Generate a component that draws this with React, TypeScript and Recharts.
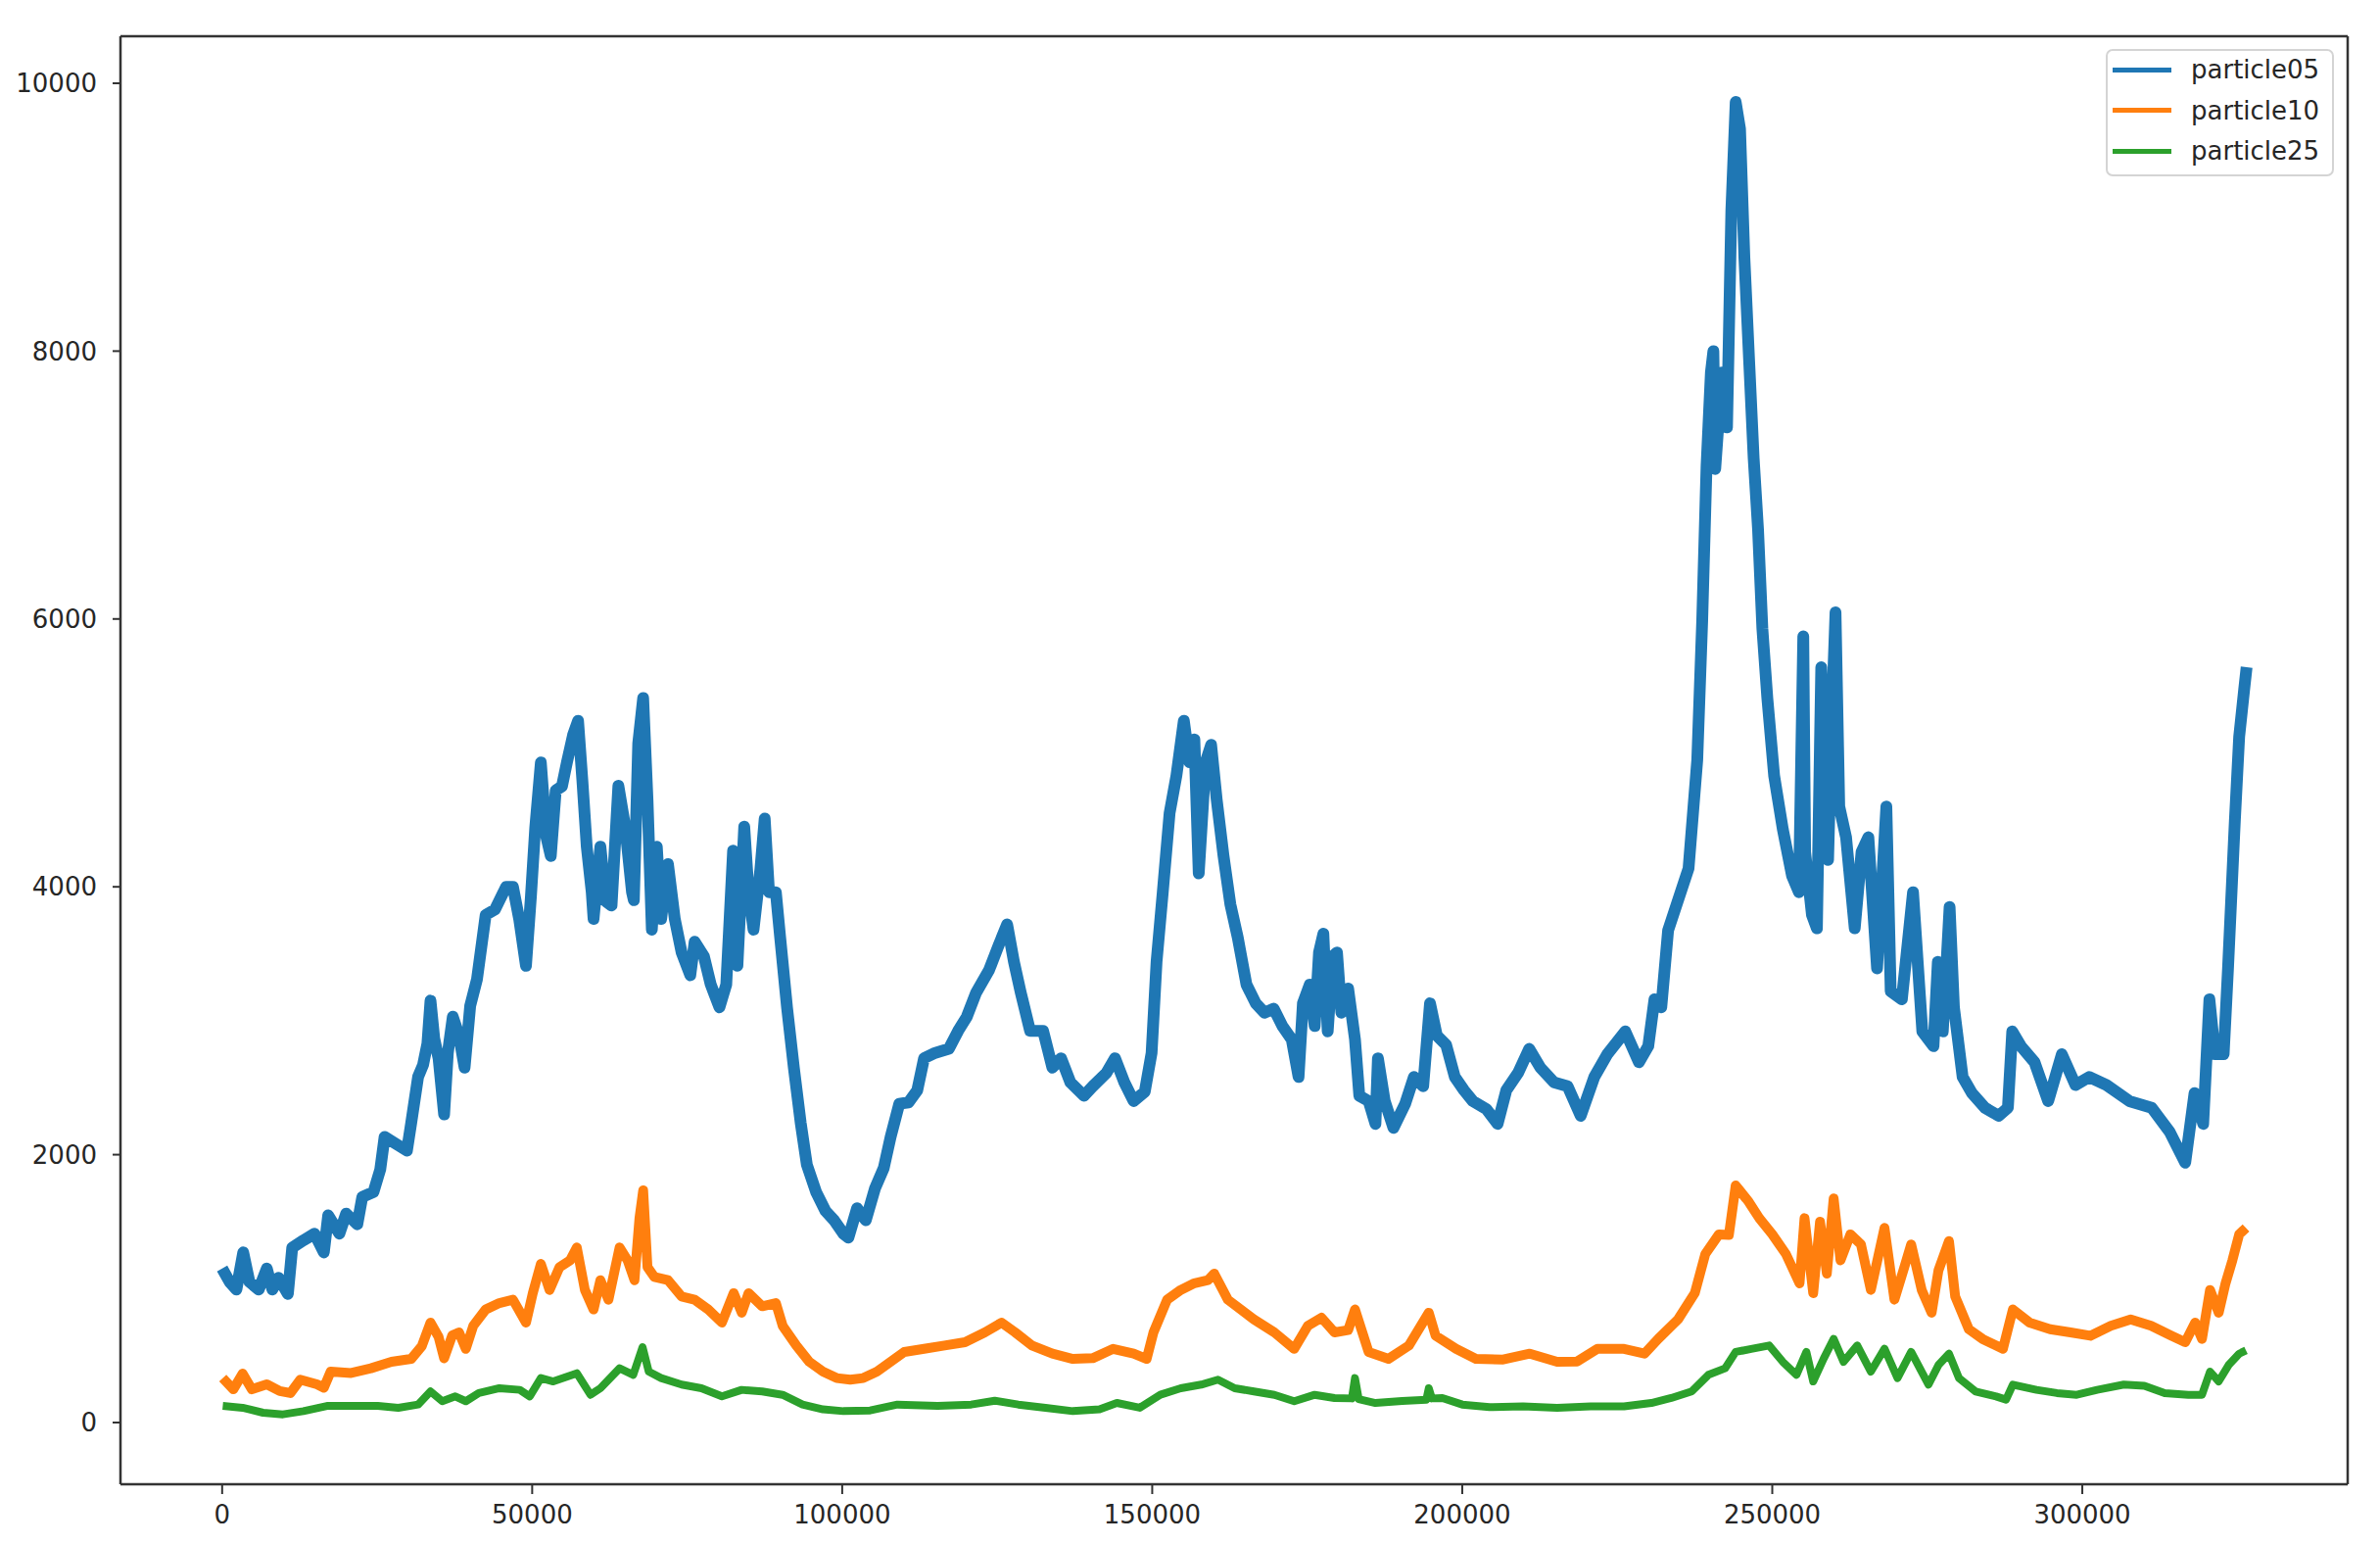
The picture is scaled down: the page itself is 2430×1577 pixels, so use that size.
import { Legend, Line, LineChart, ReferenceLine, XAxis, YAxis } from "recharts";

// sample index in thousands
const p05X = [
  0, 1.2, 2.3, 3.4, 4.4, 5.9, 7.2, 8.1, 9.1, 10.6,
  11.3, 13.1, 14.9, 16.4, 17.1, 18.9, 20.0, 21.8, 22.6, 24.4,
  25.5, 26.2, 28.4, 29.8, 30.5, 31.6, 32.4, 33.1, 33.6, 34.2,
  34.9, 35.8, 36.4, 37.2, 38.2, 39.1, 40.0, 41.1, 42.5, 44.0,
  45.8, 46.9, 47.9, 49.0, 49.8, 50.5, 51.4, 52.3, 53.0, 53.8,
  54.8, 55.6, 56.6, 57.4, 58.1, 58.8, 59.6, 59.9, 61.0, 61.9,
  62.8, 63.9, 65.0, 66.1, 66.4, 67.1, 67.9, 68.6, 69.3, 70.1,
  70.8, 71.9, 73.0, 74.1, 75.5, 76.2, 77.7, 78.8, 80.2, 81.3,
  82.4, 83.1, 84.2, 84.9, 85.7, 86.8, 87.5, 88.2, 89.3, 90.0,
  91.1, 92.2, 93.3, 94.3, 95.8, 97.3, 98.7, 100.2, 101.0, 102.4,
  103.8, 105.3, 106.7,
  107.8, 109.2, 110.7, 112.1, 113.2, 115.0, 117.2, 118.7, 120.1, 121.6,
  123.7, 125.2, 126.6, 127.7, 128.8, 130.3, 132.4, 133.9, 135.3, 136.8,
  139.0, 140.4, 142.6, 144.0, 145.5, 147.0, 148.8, 149.9, 150.7, 151.7,
  152.8, 153.9, 155.1, 156.0, 156.8, 157.5, 158.6, 159.5, 160.4, 161.5,
  162.6, 163.8, 165.2, 166.7, 168.1, 169.6, 171.0, 172.5, 173.6, 174.3,
  175.4, 176.2, 176.9, 177.6, 178.3, 179.1, 179.8, 180.5, 181.6, 182.7,
  183.4, 184.9, 186.0, 186.4, 187.5, 188.9, 190.8, 192.2, 193.7, 194.8,
  195.9, 197.4, 198.8, 200.3, 201.7, 203.9, 205.7, 207.1, 209.0, 210.8,
  212.6, 214.8, 217.0,
  219.1, 221.3, 223.4, 226.3, 228.5, 230.0, 231.0, 232.1, 233.2, 236.5,
  237.9, 238.7, 239.4, 240.1, 240.5, 240.8, 241.9, 242.7, 243.4, 244.1,
  244.8, 245.2, 245.5, 246.3, 247.0, 247.7, 248.4, 249.2, 250.3, 251.7,
  253.2, 254.3, 255.0, 255.3, 256.4, 257.2, 257.9, 259.0, 259.7, 260.2,
  260.8, 261.9, 263.3, 264.4, 265.5, 266.9, 268.4, 269.1, 270.9, 272.7,
  274.2, 276.0, 276.7, 277.5, 278.6, 279.3, 280.7, 282.2, 284.3, 286.5,
  288.0, 288.7, 290.1, 292.3, 294.5, 296.7, 298.9, 301.1, 303.9, 307.6,
  311.2, 314.1, 316.6, 318.1, 319.5, 320.5, 321.4, 322.8, 323.5, 324.6,
  325.3, 326.1, 326.5,
];
const p05Y = [
  1150, 1050, 993, 1270, 1050, 993, 1150, 993, 1080, 960,
  1305, 1360, 1410, 1270, 1547, 1410, 1560, 1480, 1684, 1720,
  1890, 2133, 2070, 2030, 2240, 2581, 2670, 2830, 3150, 2870,
  2720, 2300, 2760, 3030, 2890, 2650, 3110, 3310, 3790, 3830,
  4000, 4000, 3760, 3410, 3930, 4446, 4928, 4370, 4230, 4720,
  4750, 4928, 5135, 5240, 4790, 4300, 3960, 3760, 4300, 3890,
  3860, 4755, 4450, 3960, 3900, 5070, 5410, 4650, 3680, 4300,
  3760, 4170, 3760, 3510, 3340, 3590, 3480, 3270, 3100, 3270,
  4270, 3410, 4450, 3960, 3680, 4130, 4510, 3960, 3960, 3620,
  3100, 2650, 2240, 1925, 1720, 1580, 1510, 1410, 1380, 1600,
  1510, 1750, 1900,
  2130, 2380, 2390, 2480, 2720, 2760, 2790, 2925, 3030, 3210,
  3380, 3560, 3720, 3440, 3210, 2925, 2925, 2650, 2720, 2540,
  2440, 2510, 2610, 2720, 2540, 2400, 2470, 2760, 3440, 3960,
  4550, 4830, 5240, 4930, 5100, 4100, 4930, 5060, 4650, 4230,
  3870, 3620, 3270, 3130, 3060, 3090, 2960, 2860, 2580, 3130,
  3270, 2960, 3510, 3650, 2920, 3480, 3510, 3060, 3240, 2860,
  2440, 2400, 2230, 2720, 2400, 2200, 2380, 2580, 2510, 3130,
  2890, 2820, 2580, 2480, 2400, 2340, 2230, 2480, 2610, 2790,
  2650, 2540, 2510,
  2290, 2580, 2750, 2920, 2690, 2810, 3160, 3100, 3675, 4138,
  4947, 5987, 7144, 7840, 8000, 7120, 7840, 7430, 9054, 9860,
  9660, 9110, 8700, 7897, 7200, 6673, 5930, 5410, 4830, 4430,
  4080, 3960, 5870, 4260, 3790, 3690, 5640, 4200, 5410, 6050,
  4600, 4370, 3690, 4260, 4370, 3390, 4600, 3220, 3160, 3960,
  2920, 2810, 3440, 2920, 3850, 3100, 2580, 2460, 2350, 2290,
  2350, 2920, 2810, 2690, 2400, 2750, 2520, 2580, 2520, 2400,
  2350, 2170, 1940, 2460, 2230, 3160, 2750, 2750, 3390, 4490,
  5120, 5470, 5640,
];

const p10X = [
  0.1, 1.8, 3.3, 4.8, 7.2, 9.3, 11.0, 12.6, 15.3, 16.4,
  17.5, 20.8, 24.0, 27.3, 30.5, 32.2, 33.6, 34.9, 35.8, 37.1,
  38.2, 39.3, 40.5, 42.5, 44.7, 46.9, 49.0, 50.1, 51.4, 52.8,
  54.4, 56.1, 57.2, 58.5, 59.9, 61.0, 62.3, 64.1, 65.4, 66.5,
  67.3, 67.9, 68.6, 69.7, 71.9, 74.1, 76.2, 78.4, 80.6, 82.5,
  83.8, 84.9, 87.1, 89.3, 90.4, 92.6, 94.7, 96.9, 99.1, 101.3,
  103.4, 105.6, 107.8, 110.0, 113.2, 116.5, 119.8, 123.0, 125.7, 127.9,
  130.6, 133.9, 137.2, 140.4, 143.7, 147.0, 149.1, 150.2, 152.4, 154.6,
  156.8, 159.0, 160.0, 162.2,
  166.4, 169.7, 172.9, 175.1, 177.3, 179.4, 181.6, 182.7, 184.9, 188.1,
  191.4, 194.6, 195.7, 199.0, 202.2, 206.6, 210.9, 215.3, 218.5, 221.8,
  226.1, 229.4, 231.6, 234.8, 237.5, 239.2, 241.4, 243.0, 244.1, 246.2,
  247.9, 250.0, 252.2, 254.4, 255.2, 256.6, 257.7, 258.8, 259.9, 261.0,
  262.6, 264.3, 265.9, 268.1, 269.7, 271.3, 272.4, 274.1, 275.7, 276.8,
  278.5, 279.5, 281.7, 283.9, 287.2, 288.8, 291.5, 294.8, 298.1, 301.3,
  304.6, 307.8, 311.1, 314.4, 316.6, 318.2, 319.3, 320.6, 322.0, 323.1,
  324.2, 325.3, 326.4,
];
const p10Y = [
  332, 248, 365, 248, 285, 235, 220, 320, 285, 260,
  380, 370, 405, 453, 475, 570, 746, 640, 480, 650,
  673, 550, 722, 844, 892, 917, 746, 966, 1185, 990,
  1160, 1210, 1307, 990, 844, 1063, 917, 1307, 1210, 1063,
  1526, 1733, 1160, 1087, 1063, 941, 917, 844, 746, 966,
  820, 966, 868, 892, 722, 575, 453, 380, 332, 320,
  332, 380, 453, 527, 550, 575, 600, 673, 746, 673,
  575, 514, 475, 480, 550, 514, 475, 673, 917, 990,
  1040, 1063, 1112, 917,
  770, 673, 550, 722, 783, 673, 690, 844, 527, 475,
  575, 820, 648, 550, 475, 470, 514, 453, 455, 550,
  550, 514, 624, 770, 966, 1258, 1405, 1400, 1770, 1648,
  1526, 1405, 1258, 1039, 1526, 966, 1500, 1112, 1673, 1210,
  1405, 1330, 990, 1453, 917, 1160, 1330, 990, 820, 1136,
  1355, 941, 697, 624, 550, 844, 746, 697, 673, 648,
  722, 770, 722, 648, 600, 746, 624, 990, 820, 1039,
  1210, 1405, 1453,
];

const p25X = [
  0.1, 3.3, 6.6, 9.8, 13.1, 16.9, 20.8, 25.1, 28.4, 31.6,
  33.6, 35.5, 37.6, 39.3, 41.4, 44.7, 48.0, 49.6, 51.4, 53.4,
  57.2, 59.4, 61.0, 64.1, 66.3, 67.8, 68.8, 70.8, 74.1, 77.3,
  80.6, 83.8, 87.1, 90.4, 93.6, 96.9, 100.2, 104.5, 108.9, 115.4,
  120.8, 124.6, 128.4, 132.8, 137.2, 141.5, 144.3, 148.0, 151.3, 154.6,
  157.9, 160.6, 163.3,
  166.4, 169.7, 172.9, 176.2, 179.4, 182.2, 182.7, 183.3, 186.0, 190.3,
  194.2, 194.6, 195.1, 196.8, 200.0, 204.4, 209.8, 215.3, 220.7, 226.1,
  230.5, 233.7, 237.0, 239.7, 242.4, 244.1, 246.8, 249.5, 251.7, 253.9,
  255.5, 256.6, 258.3, 259.9, 261.5, 263.7, 265.9, 268.1, 270.2, 272.4,
  275.2, 276.8, 278.5, 280.1, 282.8, 286.1, 287.7, 288.8, 292.6, 295.9,
  299.1, 302.4, 306.7, 310.0, 313.3, 317.1, 319.3, 320.6, 322.0, 323.6,
  325.3, 326.4,
];
const p25Y = [
  124, 110, 73, 61, 85, 124, 124, 124, 110, 134,
  232, 159, 195, 159, 220, 256, 244, 195, 332, 307,
  368, 207, 256, 405, 356, 563, 380, 332, 283, 256,
  195, 244, 232, 207, 134, 98, 85, 90, 134, 124,
  134, 163, 134, 110, 85, 98, 146, 110, 207, 256,
  283, 320, 256,
  232, 207, 159, 207, 183, 180, 332, 175, 146, 160,
  170, 256, 180, 183, 134, 115, 120, 110, 120, 120,
  146, 183, 232, 356, 405, 527, 551, 575, 453, 356,
  527, 307, 478, 624, 453, 575, 380, 551, 332, 527,
  283, 429, 514, 332, 232, 195, 171, 283, 244, 220,
  207, 244, 283, 275, 220, 207, 207, 380, 307, 429,
  514, 539,
];

const seriesNames = ["particle05", "particle10", "particle25"];
const xTicks = [0, 50000, 100000, 150000, 200000, 250000, 300000];
const yTicks = [0, 2000, 4000, 6000, 8000, 10000];

const W = 2430;
const H = 1577;
const X_DOMAIN: [number, number] = [-16400, 342800];
const Y_DOMAIN: [number, number] = [-461, 10351];
const INK = "#262626";
const SPINE = { stroke: "#333", strokeWidth: 2.5 };
const FONT = "DejaVu Sans";

const toPoints = (xs: number[], ys: number[]) => xs.map((x, i) => ({ x: x * 1000, y: ys[i] }));

// the reference lines are dense noisy traces, so the strokes are drawn wide
const series = [
  { name: seriesNames[0], color: "#1f77b4", width: 12, data: toPoints(p05X, p05Y) },
  { name: seriesNames[1], color: "#ff7f0e", width: 10, data: toPoints(p10X, p10Y) },
  { name: seriesNames[2], color: "#2ca02c", width: 8, data: toPoints(p25X, p25Y) },
];

function LegendBox() {
  return (
    <div
      style={{
        position: "relative",
        width: 233,
        height: 130,
        boxSizing: "border-box",
        border: "2px solid #d4d4d4",
        borderRadius: 7,
        background: "rgba(255,255,255,0.8)",
        fontFamily: FONT,
      }}
    >
      {series.map((s, i) => (
        <div
          key={s.name}
          style={{ position: "absolute", left: 5, top: 2 + i * 41.5, height: 34, display: "flex", alignItems: "center" }}
        >
          <div style={{ width: 60, height: 5, background: s.color }} />
          <span style={{ marginLeft: 20, fontSize: 26, lineHeight: "34px", color: INK, whiteSpace: "nowrap" }}>{s.name}</span>
        </div>
      ))}
    </div>
  );
}

export default function App() {
  return (
    <div style={{ position: "absolute", left: 0, top: 0, width: W, height: H, background: "#fff", fontFamily: FONT }}>
      <LineChart width={W} height={H} margin={{ top: 37, right: 33, left: 0, bottom: 0 }}>
        <XAxis
          xAxisId="b"
          dataKey="x"
          type="number"
          domain={X_DOMAIN}
          allowDataOverflow
          ticks={xTicks}
          interval={0}
          height={62}
          tickSize={10}
          tickMargin={12}
          axisLine={SPINE}
          tickLine={{ stroke: "#333", strokeWidth: 2 }}
          tick={{ fontSize: 26, fill: INK, fontFamily: FONT }}
        />
        <YAxis
          yAxisId="l"
          type="number"
          domain={Y_DOMAIN}
          allowDataOverflow
          ticks={yTicks}
          interval={0}
          width={123}
          tickSize={8}
          tickMargin={16}
          axisLine={SPINE}
          tickLine={{ stroke: "#333", strokeWidth: 2 }}
          tick={{ fontSize: 26, fill: INK, fontFamily: FONT }}
        />
        <Legend
          layout="horizontal"
          verticalAlign="middle"
          align="center"
          content={() => <LegendBox />}
          wrapperStyle={{ left: 2150, top: 50, width: 233, height: 130 }}
        />
        {series.map((s) => (
          <Line
            key={s.name}
            xAxisId="b"
            yAxisId="l"
            data={s.data}
            dataKey="y"
            name={s.name}
            type="linear"
            stroke={s.color}
            strokeWidth={s.width}
            strokeLinejoin="round"
            dot={false}
            activeDot={false}
            isAnimationActive={false}
          />
        ))}
        {/* top and right frame lines */}
        <ReferenceLine xAxisId="b" yAxisId="l" y={Y_DOMAIN[1]} stroke="#333" strokeWidth={2.5} ifOverflow="visible" />
        <ReferenceLine xAxisId="b" yAxisId="l" x={X_DOMAIN[1]} stroke="#333" strokeWidth={2.5} ifOverflow="visible" />
      </LineChart>
    </div>
  );
}
